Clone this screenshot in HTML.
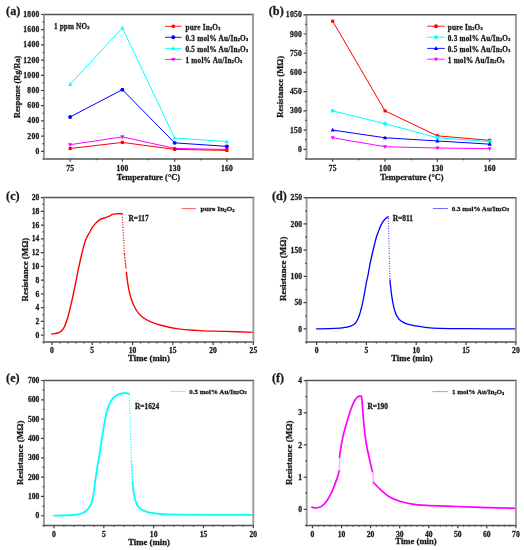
<!DOCTYPE html>
<html><head><meta charset="utf-8"><title>Figure</title>
<style>
html,body{margin:0;padding:0;background:#fff;}
body{width:524px;height:550px;overflow:hidden;}
svg{display:block;will-change:transform;}
text{font-family:"Liberation Serif",serif;font-weight:bold;fill:#1a1a1a;stroke:#1a1a1a;stroke-width:0.28px;}
</style></head><body>
<svg width="524" height="550" viewBox="0 0 524 550">
<rect width="524" height="550" fill="#fff"/>
<text x="6.1" y="14.6" font-size="12.2" text-anchor="start">(a)</text>
<path d="M70.12 84.42L122.38 27.88L174.62 138L226.88 141.65" fill="none" stroke="#00ffff" stroke-width="1.0"/>
<path d="M70.12 82.12L72.22 85.92L68.03 85.92Z" fill="#00ffff"/>
<path d="M122.38 25.58L124.47 29.38L120.28 29.38Z" fill="#00ffff"/>
<path d="M174.62 135.7L176.72 139.5L172.53 139.5Z" fill="#00ffff"/>
<path d="M226.88 139.35L228.97 143.15L224.78 143.15Z" fill="#00ffff"/>
<path d="M70.12 116.95L122.38 89.66L174.62 142.86L226.88 146.36" fill="none" stroke="#0000ff" stroke-width="1.0"/>
<circle cx="70.12" cy="116.95" r="1.95" fill="#0000ff"/>
<circle cx="122.38" cy="89.66" r="1.95" fill="#0000ff"/>
<circle cx="174.62" cy="142.86" r="1.95" fill="#0000ff"/>
<circle cx="226.88" cy="146.36" r="1.95" fill="#0000ff"/>
<path d="M70.12 144.69L122.38 136.86L174.62 148.41L226.88 149.48" fill="none" stroke="#ff00ff" stroke-width="1.0"/>
<path d="M70.12 146.99L72.22 143.19L68.03 143.19Z" fill="#ff00ff"/>
<path d="M122.38 139.16L124.47 135.36L120.28 135.36Z" fill="#ff00ff"/>
<path d="M174.62 150.71L176.72 146.91L172.53 146.91Z" fill="#ff00ff"/>
<path d="M226.88 151.78L228.97 147.98L224.78 147.98Z" fill="#ff00ff"/>
<path d="M70.12 148.49L122.38 142.41L174.62 149.4L226.88 150.39" fill="none" stroke="#ff0000" stroke-width="1.0"/>
<rect x="68.58" y="146.94" width="3.1" height="3.1" fill="#ff0000"/>
<rect x="120.83" y="140.86" width="3.1" height="3.1" fill="#ff0000"/>
<rect x="173.07" y="147.85" width="3.1" height="3.1" fill="#ff0000"/>
<rect x="225.32" y="148.84" width="3.1" height="3.1" fill="#ff0000"/>
<path d="M43.2 14.5H253.8M43.2 158.9H253.8" stroke="#555555" stroke-width="1.5"/>
<path d="M44 14.5V158.9M253 14.5V158.9" stroke="#9a9a9a" stroke-width="1.9"/>
<path d="M44 151.3H41M44 136.1H41M44 120.9H41M44 105.7H41M44 90.5H41M44 75.3H41M44 60.1H41M44 44.9H41M44 29.7H41M44 14.5H41M44 158.9H42.5M44 143.7H42.5M44 128.5H42.5M44 113.3H42.5M44 98.1H42.5M44 82.9H42.5M44 67.7H42.5M44 52.5H42.5M44 37.3H42.5M44 22.1H42.5" stroke="#404040" stroke-width="1.2"/>
<text x="39.75" y="153.88" font-size="7.6" text-anchor="end" letter-spacing="0.35">0</text>
<text x="39.75" y="138.68" font-size="7.6" text-anchor="end" letter-spacing="0.35">200</text>
<text x="39.75" y="123.48" font-size="7.6" text-anchor="end" letter-spacing="0.35">400</text>
<text x="39.75" y="108.28" font-size="7.6" text-anchor="end" letter-spacing="0.35">600</text>
<text x="39.75" y="93.08" font-size="7.6" text-anchor="end" letter-spacing="0.35">800</text>
<text x="39.75" y="77.88" font-size="7.6" text-anchor="end" letter-spacing="0.35">1000</text>
<text x="39.75" y="62.68" font-size="7.6" text-anchor="end" letter-spacing="0.35">1200</text>
<text x="39.75" y="47.48" font-size="7.6" text-anchor="end" letter-spacing="0.35">1400</text>
<text x="39.75" y="32.28" font-size="7.6" text-anchor="end" letter-spacing="0.35">1600</text>
<text x="39.75" y="17.08" font-size="7.6" text-anchor="end" letter-spacing="0.35">1800</text>
<path d="M70.12 158.9V161.7M122.38 158.9V161.7M174.62 158.9V161.7M226.88 158.9V161.7M96.25 158.9V160.3M148.5 158.9V160.3M200.75 158.9V160.3" stroke="#404040" stroke-width="1.2"/>
<text x="70.25" y="170.9" font-size="7.6" text-anchor="middle" letter-spacing="0.25">75</text>
<text x="122.5" y="170.9" font-size="7.6" text-anchor="middle" letter-spacing="0.25">100</text>
<text x="174.75" y="170.9" font-size="7.6" text-anchor="middle" letter-spacing="0.25">130</text>
<text x="227" y="170.9" font-size="7.6" text-anchor="middle" letter-spacing="0.25">160</text>
<text x="148.4" y="179.6" font-size="8.4" text-anchor="middle" textLength="63.2" lengthAdjust="spacingAndGlyphs">Temperature (&#176;C)</text>
<text x="0" y="0" font-size="8.4" text-anchor="middle" textLength="62.2" lengthAdjust="spacingAndGlyphs" transform="translate(19.8 86.9) rotate(-90)">Response (Rg/Ra)</text>
<text x="54" y="28.6" font-size="7.2" text-anchor="start" letter-spacing="0.15">1 ppm NO<tspan font-size="4.6" dy="0.6">2</tspan></text>
<path d="M165 26.3H181.6" stroke="#ff0000" stroke-width="0.9"/>
<rect x="171.75" y="24.75" width="3.1" height="3.1" fill="#ff0000"/>
<text x="185.5" y="29.66" font-size="7.25" text-anchor="start" letter-spacing="0.2">pure In<tspan font-size="4.35" dy="0.58">2</tspan><tspan dy="-0.58">O</tspan><tspan font-size="4.35" dy="0.58">3</tspan></text>
<path d="M165 37.3H181.6" stroke="#0000ff" stroke-width="0.9"/>
<circle cx="173.3" cy="37.3" r="1.95" fill="#0000ff"/>
<text x="185.5" y="40.66" font-size="7.25" text-anchor="start" letter-spacing="0.2">0.3 mol% Au/In<tspan font-size="4.35" dy="0.58">2</tspan><tspan dy="-0.58">O</tspan><tspan font-size="4.35" dy="0.58">3</tspan></text>
<path d="M165 48.4H181.6" stroke="#00ffff" stroke-width="0.9"/>
<path d="M173.3 46.1L175.4 49.9L171.2 49.9Z" fill="#00ffff"/>
<text x="185.5" y="51.77" font-size="7.25" text-anchor="start" letter-spacing="0.2">0.5 mol% Au/In<tspan font-size="4.35" dy="0.58">2</tspan><tspan dy="-0.58">O</tspan><tspan font-size="4.35" dy="0.58">3</tspan></text>
<path d="M165 59.4H181.6" stroke="#ff00ff" stroke-width="0.9"/>
<path d="M173.3 61.7L175.4 57.9L171.2 57.9Z" fill="#ff00ff"/>
<text x="185.5" y="62.77" font-size="7.25" text-anchor="start" letter-spacing="0.2">1 mol% Au/In<tspan font-size="4.35" dy="0.58">2</tspan><tspan dy="-0.58">O</tspan><tspan font-size="4.35" dy="0.58">3</tspan></text>
<text x="268.8" y="14.6" font-size="12.2" text-anchor="start">(b)</text>
<path d="M332.68 21.2L385.02 110.87L437.38 135.84L489.72 140.33" fill="none" stroke="#ff0000" stroke-width="1.0"/>
<rect x="331.12" y="19.65" width="3.1" height="3.1" fill="#ff0000"/>
<rect x="383.47" y="109.32" width="3.1" height="3.1" fill="#ff0000"/>
<rect x="435.82" y="134.29" width="3.1" height="3.1" fill="#ff0000"/>
<rect x="488.17" y="138.78" width="3.1" height="3.1" fill="#ff0000"/>
<path d="M332.68 110.87L385.02 123.68L437.38 137.77L489.72 141.61" fill="none" stroke="#00ffff" stroke-width="1.0"/>
<circle cx="332.68" cy="110.87" r="1.95" fill="#00ffff"/>
<circle cx="385.02" cy="123.68" r="1.95" fill="#00ffff"/>
<circle cx="437.38" cy="137.77" r="1.95" fill="#00ffff"/>
<circle cx="489.72" cy="141.61" r="1.95" fill="#00ffff"/>
<path d="M332.68 130.08L385.02 137.77L437.38 140.97L489.72 144.17" fill="none" stroke="#0000ff" stroke-width="1.0"/>
<path d="M332.68 127.78L334.78 131.58L330.57 131.58Z" fill="#0000ff"/>
<path d="M385.02 135.47L387.12 139.27L382.92 139.27Z" fill="#0000ff"/>
<path d="M437.38 138.67L439.48 142.47L435.27 142.47Z" fill="#0000ff"/>
<path d="M489.72 141.87L491.82 145.67L487.62 145.67Z" fill="#0000ff"/>
<path d="M332.68 137.77L385.02 146.73L437.38 148.01L489.72 148.65" fill="none" stroke="#ff00ff" stroke-width="1.0"/>
<path d="M332.68 140.07L334.78 136.27L330.57 136.27Z" fill="#ff00ff"/>
<path d="M385.02 149.03L387.12 145.23L382.92 145.23Z" fill="#ff00ff"/>
<path d="M437.38 150.31L439.48 146.51L435.27 146.51Z" fill="#ff00ff"/>
<path d="M489.72 150.95L491.82 147.15L487.62 147.15Z" fill="#ff00ff"/>
<path d="M305.7 14.8H516.7M305.7 158.9H516.7" stroke="#555555" stroke-width="1.5"/>
<path d="M306.5 14.8V158.9M515.9 14.8V158.9" stroke="#9a9a9a" stroke-width="1.9"/>
<path d="M306.5 149.29H303.5M306.5 130.08H303.5M306.5 110.87H303.5M306.5 91.65H303.5M306.5 72.44H303.5M306.5 53.23H303.5M306.5 34.01H303.5M306.5 14.8H303.5M306.5 158.9H305M306.5 139.69H305M306.5 120.47H305M306.5 101.26H305M306.5 82.05H305M306.5 62.83H305M306.5 43.62H305M306.5 24.41H305" stroke="#404040" stroke-width="1.2"/>
<text x="302.2" y="151.88" font-size="7.6" text-anchor="end" letter-spacing="0.3">0</text>
<text x="302.2" y="132.66" font-size="7.6" text-anchor="end" letter-spacing="0.3">150</text>
<text x="302.2" y="113.45" font-size="7.6" text-anchor="end" letter-spacing="0.3">300</text>
<text x="302.2" y="94.24" font-size="7.6" text-anchor="end" letter-spacing="0.3">450</text>
<text x="302.2" y="75.02" font-size="7.6" text-anchor="end" letter-spacing="0.3">600</text>
<text x="302.2" y="55.81" font-size="7.6" text-anchor="end" letter-spacing="0.3">750</text>
<text x="302.2" y="36.6" font-size="7.6" text-anchor="end" letter-spacing="0.3">900</text>
<text x="302.2" y="17.38" font-size="7.6" text-anchor="end" letter-spacing="0.3">1050</text>
<path d="M332.68 158.9V161.7M385.02 158.9V161.7M437.38 158.9V161.7M489.72 158.9V161.7M358.85 158.9V160.3M411.2 158.9V160.3M463.55 158.9V160.3" stroke="#404040" stroke-width="1.2"/>
<text x="332.8" y="170.9" font-size="7.6" text-anchor="middle" letter-spacing="0.25">75</text>
<text x="385.15" y="170.9" font-size="7.6" text-anchor="middle" letter-spacing="0.25">100</text>
<text x="437.5" y="170.9" font-size="7.6" text-anchor="middle" letter-spacing="0.25">130</text>
<text x="489.85" y="170.9" font-size="7.6" text-anchor="middle" letter-spacing="0.25">160</text>
<text x="411.9" y="179.6" font-size="8.4" text-anchor="middle" textLength="63.2" lengthAdjust="spacingAndGlyphs">Temperature (&#176;C)</text>
<text x="0" y="0" font-size="8.4" text-anchor="middle" textLength="61.9" lengthAdjust="spacingAndGlyphs" transform="translate(283.2 86.8) rotate(-90)">Resistance (M&#937;)</text>
<path d="M427.2 26.2H444.8" stroke="#ff0000" stroke-width="0.9"/>
<circle cx="436" cy="26.2" r="1.95" fill="#ff0000"/>
<text x="447.8" y="29.56" font-size="7.25" text-anchor="start" letter-spacing="0.2">pure In<tspan font-size="4.35" dy="0.58">2</tspan><tspan dy="-0.58">O</tspan><tspan font-size="4.35" dy="0.58">3</tspan></text>
<path d="M427.2 37.2H444.8" stroke="#00ffff" stroke-width="0.9"/>
<circle cx="436" cy="37.2" r="1.95" fill="#00ffff"/>
<text x="447.8" y="40.57" font-size="7.25" text-anchor="start" letter-spacing="0.2">0.3 mol% Au/In<tspan font-size="4.35" dy="0.58">2</tspan><tspan dy="-0.58">O</tspan><tspan font-size="4.35" dy="0.58">3</tspan></text>
<path d="M427.2 48.4H444.8" stroke="#0000ff" stroke-width="0.9"/>
<path d="M436 46.1L438.1 49.9L433.9 49.9Z" fill="#0000ff"/>
<text x="447.8" y="51.77" font-size="7.25" text-anchor="start" letter-spacing="0.2">0.5 mol% Au/In<tspan font-size="4.35" dy="0.58">2</tspan><tspan dy="-0.58">O</tspan><tspan font-size="4.35" dy="0.58">3</tspan></text>
<path d="M427.2 59.2H444.8" stroke="#ff00ff" stroke-width="0.9"/>
<path d="M436 61.5L438.1 57.7L433.9 57.7Z" fill="#ff00ff"/>
<text x="447.8" y="62.57" font-size="7.25" text-anchor="start" letter-spacing="0.2">1 mol% Au/In<tspan font-size="4.35" dy="0.58">2</tspan><tspan dy="-0.58">O</tspan><tspan font-size="4.35" dy="0.58">3</tspan></text>
<text x="6.1" y="199.7" font-size="12.2" text-anchor="start">(c)</text>
<path d="M51.96 334.05C53.13 333.83 56.98 333.78 58.97 332.74C60.96 331.69 62.45 330.24 63.88 327.78C65.32 325.33 66.35 322.09 67.59 318.01C68.83 313.92 70.06 308.61 71.3 303.28C72.53 297.94 73.77 291.94 75 286C76.24 280.06 77.49 273.36 78.71 267.62C79.93 261.89 81.13 256.3 82.34 251.58C83.54 246.87 84.71 242.6 85.96 239.33C87.21 236.06 88.65 234.11 89.83 231.97C91.01 229.82 91.9 228.1 93.05 226.46C94.21 224.82 95.62 223.28 96.76 222.12C97.9 220.96 98.63 220.2 99.9 219.51C101.18 218.82 102.82 218.56 104.41 217.99C106.01 217.43 108.17 216.73 109.49 216.13C110.81 215.54 111.05 214.8 112.31 214.41C113.57 214.02 115.41 213.93 117.06 213.79C118.72 213.66 121.36 213.62 122.22 213.59" fill="none" stroke="#ff0000" stroke-width="1.4" stroke-linejoin="round" stroke-linecap="round"/>
<path d="M122.22 214.07L124.48 253.99" stroke="#ff0000" stroke-width="1.3" stroke-dasharray="1 1.6"/>
<path d="M124.48 253.99L126.09 269.14" stroke="#ff0000" stroke-width="1.3" stroke-dasharray="0.9 0.6"/>
<path d="M126.41 272.23C126.71 274.53 127.42 281.66 128.18 286C128.95 290.34 129.77 294.42 131 298.25C132.24 302.08 133.81 305.94 135.6 308.99C137.38 312.04 139.18 314.42 141.72 316.56C144.26 318.71 147.28 320.34 150.83 321.86C154.37 323.39 158.41 324.56 162.99 325.72C167.57 326.88 172.08 328 178.3 328.82C184.52 329.63 192.55 330.18 200.3 330.6C208.05 331.03 215.95 331.08 224.8 331.36C233.65 331.65 248.63 332.17 253.4 332.33" fill="none" stroke="#ff0000" stroke-width="1.4" stroke-linejoin="round" stroke-linecap="round"/>
<path d="M43.1 197.55H254.2M43.1 342.1H254.2" stroke="#555555" stroke-width="1.5"/>
<path d="M43.9 197.55V342.1M253.4 197.55V342.1" stroke="#9a9a9a" stroke-width="1.9"/>
<path d="M43.9 335.22H40.9M43.9 321.45H40.9M43.9 307.68H40.9M43.9 293.92H40.9M43.9 280.15H40.9M43.9 266.38H40.9M43.9 252.62H40.9M43.9 238.85H40.9M43.9 225.08H40.9M43.9 211.32H40.9M43.9 197.55H40.9M43.9 342.1H42.4M43.9 328.33H42.4M43.9 314.57H42.4M43.9 300.8H42.4M43.9 287.03H42.4M43.9 273.27H42.4M43.9 259.5H42.4M43.9 245.73H42.4M43.9 231.97H42.4M43.9 218.2H42.4M43.9 204.43H42.4" stroke="#404040" stroke-width="1.2"/>
<text x="39.3" y="337.8" font-size="7.6" text-anchor="end">0</text>
<text x="39.3" y="324.03" font-size="7.6" text-anchor="end">2</text>
<text x="39.3" y="310.27" font-size="7.6" text-anchor="end">4</text>
<text x="39.3" y="296.5" font-size="7.6" text-anchor="end">6</text>
<text x="39.3" y="282.73" font-size="7.6" text-anchor="end">8</text>
<text x="39.3" y="268.97" font-size="7.6" text-anchor="end">10</text>
<text x="39.3" y="255.2" font-size="7.6" text-anchor="end">12</text>
<text x="39.3" y="241.43" font-size="7.6" text-anchor="end">14</text>
<text x="39.3" y="227.67" font-size="7.6" text-anchor="end">16</text>
<text x="39.3" y="213.9" font-size="7.6" text-anchor="end">18</text>
<text x="39.3" y="200.13" font-size="7.6" text-anchor="end">20</text>
<path d="M51.96 342.1V344.9M92.25 342.1V344.9M132.53 342.1V344.9M172.82 342.1V344.9M213.11 342.1V344.9M253.4 342.1V344.9M43.9 342.1V343.5M60.02 342.1V343.5M68.07 342.1V343.5M76.13 342.1V343.5M84.19 342.1V343.5M100.3 342.1V343.5M108.36 342.1V343.5M116.42 342.1V343.5M124.48 342.1V343.5M140.59 342.1V343.5M148.65 342.1V343.5M156.71 342.1V343.5M164.77 342.1V343.5M180.88 342.1V343.5M188.94 342.1V343.5M197 342.1V343.5M205.05 342.1V343.5M221.17 342.1V343.5M229.23 342.1V343.5M237.28 342.1V343.5M245.34 342.1V343.5" stroke="#404040" stroke-width="1.2"/>
<text x="51.96" y="353.3" font-size="7.6" text-anchor="middle">0</text>
<text x="92.25" y="353.3" font-size="7.6" text-anchor="middle">5</text>
<text x="132.53" y="353.3" font-size="7.6" text-anchor="middle">10</text>
<text x="172.82" y="353.3" font-size="7.6" text-anchor="middle">15</text>
<text x="213.11" y="353.3" font-size="7.6" text-anchor="middle">20</text>
<text x="253.4" y="353.3" font-size="7.6" text-anchor="middle">25</text>
<text x="149" y="361.1" font-size="8.4" text-anchor="middle" textLength="41.8" lengthAdjust="spacingAndGlyphs">Time (min)</text>
<text x="0" y="0" font-size="8.4" text-anchor="middle" textLength="63.7" lengthAdjust="spacingAndGlyphs" transform="translate(28 269.6) rotate(-90)">Resistance (M&#937;)</text>
<text x="128.4" y="221.1" font-size="7.2" text-anchor="start" textLength="20.2" lengthAdjust="spacingAndGlyphs">R=117</text>
<path d="M181.6 208.6H196.2" stroke="#ff5050" stroke-width="0.9"/>
<circle cx="188.9" cy="208.6" r="0.75" fill="#ff5050"/>
<text x="200.6" y="211.01" font-size="7.1" text-anchor="start" textLength="34" lengthAdjust="spacingAndGlyphs">pure In<tspan font-size="4.26" dy="0.57">2</tspan><tspan dy="-0.57">O</tspan><tspan font-size="4.26" dy="0.57">3</tspan></text>
<text x="272" y="199.7" font-size="12.2" text-anchor="start">(d)</text>
<path d="M316.57 328.82C318.56 328.8 324.62 328.82 328.53 328.71C332.43 328.61 337.13 328.42 339.99 328.19C342.85 327.95 343.79 327.69 345.67 327.29C347.55 326.9 349.67 326.45 351.25 325.82C352.83 325.19 354.09 324.54 355.14 323.51C356.18 322.49 356.82 321.1 357.53 319.68C358.24 318.26 358.88 316.58 359.42 315.01C359.97 313.43 360.35 311.96 360.82 310.23C361.28 308.49 361.75 306.65 362.21 304.61C362.68 302.57 363.14 300.36 363.61 297.99C364.07 295.62 364.54 292.96 365 290.38C365.47 287.8 365.87 285.22 366.4 282.5C366.93 279.79 367.56 277.32 368.19 274.1C368.83 270.88 369.51 266.57 370.19 263.18C370.87 259.78 371.6 256.68 372.28 253.73C372.96 250.78 373.59 248.22 374.27 245.48C374.95 242.74 375.57 239.91 376.37 237.29C377.16 234.68 378.16 232.07 379.06 229.78C379.95 227.5 380.82 225.3 381.75 223.59C382.68 221.87 383.71 220.57 384.64 219.49C385.57 218.41 386.73 217.57 387.33 217.13C387.93 216.68 388.08 216.87 388.23 216.81" fill="none" stroke="#0000ff" stroke-width="1.3" stroke-linejoin="round" stroke-linecap="round"/>
<path d="M388.33 218.18L389.92 279.98" stroke="#0000ff" stroke-width="1.1" stroke-dasharray="0.9 1.6"/>
<path d="M389.92 279.98C390.05 281.25 390.44 285.08 390.72 287.6C391 290.12 391.23 292.44 391.62 295.1C392 297.77 392.46 300.92 393.01 303.61C393.56 306.3 394.19 309.01 394.9 311.22C395.62 313.44 396.27 315.25 397.3 316.9C398.33 318.54 399.52 319.91 401.08 321.1C402.65 322.28 404.31 323.2 406.67 323.98C409.02 324.77 412.18 325.27 415.24 325.82C418.29 326.37 420.88 326.87 425 327.29C429.12 327.71 433.11 328.11 439.95 328.34C446.8 328.58 453.41 328.62 466.07 328.71C478.72 328.8 507.59 328.84 515.9 328.87" fill="none" stroke="#0000ff" stroke-width="1.3" stroke-linejoin="round" stroke-linecap="round"/>
<path d="M305.8 197.7H516.7M305.8 342.1H516.7" stroke="#555555" stroke-width="1.5"/>
<path d="M306.6 197.7V342.1M515.9 197.7V342.1" stroke="#9a9a9a" stroke-width="1.9"/>
<path d="M306.6 328.97H303.6M306.6 302.72H303.6M306.6 276.46H303.6M306.6 250.21H303.6M306.6 223.95H303.6M306.6 197.7H303.6M306.6 342.1H305.1M306.6 315.85H305.1M306.6 289.59H305.1M306.6 263.34H305.1M306.6 237.08H305.1M306.6 210.83H305.1" stroke="#404040" stroke-width="1.2"/>
<text x="302" y="331.56" font-size="7.6" text-anchor="end">0</text>
<text x="302" y="305.3" font-size="7.6" text-anchor="end">50</text>
<text x="302" y="279.05" font-size="7.6" text-anchor="end">100</text>
<text x="302" y="252.79" font-size="7.6" text-anchor="end">150</text>
<text x="302" y="226.54" font-size="7.6" text-anchor="end">200</text>
<text x="302" y="200.28" font-size="7.6" text-anchor="end">250</text>
<path d="M316.57 342.1V344.9M366.4 342.1V344.9M416.23 342.1V344.9M466.07 342.1V344.9M515.9 342.1V344.9M306.6 342.1V343.5M326.53 342.1V343.5M336.5 342.1V343.5M346.47 342.1V343.5M356.43 342.1V343.5M376.37 342.1V343.5M386.33 342.1V343.5M396.3 342.1V343.5M406.27 342.1V343.5M426.2 342.1V343.5M436.17 342.1V343.5M446.13 342.1V343.5M456.1 342.1V343.5M476.03 342.1V343.5M486 342.1V343.5M495.97 342.1V343.5M505.93 342.1V343.5" stroke="#404040" stroke-width="1.2"/>
<text x="316.57" y="353.3" font-size="7.6" text-anchor="middle">0</text>
<text x="366.4" y="353.3" font-size="7.6" text-anchor="middle">5</text>
<text x="416.23" y="353.3" font-size="7.6" text-anchor="middle">10</text>
<text x="466.07" y="353.3" font-size="7.6" text-anchor="middle">15</text>
<text x="515.9" y="353.3" font-size="7.6" text-anchor="middle">20</text>
<text x="411.9" y="360.6" font-size="8.4" text-anchor="middle" textLength="41.4" lengthAdjust="spacingAndGlyphs">Time (min)</text>
<text x="0" y="0" font-size="8.4" text-anchor="middle" textLength="64.4" lengthAdjust="spacingAndGlyphs" transform="translate(286.4 268.7) rotate(-90)">Resistance (M&#937;)</text>
<text x="392.7" y="220.7" font-size="7.2" text-anchor="start" textLength="20.4" lengthAdjust="spacingAndGlyphs">R=811</text>
<path d="M432.8 208.5H448" stroke="#6060f8" stroke-width="0.9"/>
<circle cx="440.4" cy="208.5" r="0.75" fill="#6060f8"/>
<text x="451.7" y="210.88" font-size="7" text-anchor="start">0.3 mol% Au/In<tspan font-size="4.2" dy="0.56">2</tspan><tspan dy="-0.56">O</tspan><tspan font-size="4.2" dy="0.56">3</tspan></text>
<text x="6.1" y="381.9" font-size="12.2" text-anchor="start">(e)</text>
<path d="M53.97 515.68C55.46 515.65 60.26 515.58 62.94 515.51C65.61 515.43 67.75 515.39 70.01 515.24C72.27 515.08 74.5 514.92 76.49 514.58C78.48 514.25 80.33 513.88 81.97 513.23C83.62 512.58 85.18 511.67 86.36 510.7C87.54 509.73 88.22 508.58 89.05 507.39C89.88 506.21 90.69 505.32 91.34 503.61C91.99 501.89 92.49 499.28 92.94 497.1C93.38 494.91 93.67 493.06 94.03 490.51C94.4 487.96 94.76 484.51 95.13 481.79C95.49 479.08 95.86 476.66 96.23 474.2C96.59 471.75 96.67 471 97.32 467.05C97.97 463.1 99.28 455.69 100.11 450.5C100.94 445.3 101.57 440.5 102.31 435.89C103.04 431.28 103.78 426.69 104.5 422.81C105.21 418.93 105.76 415.74 106.59 412.59C107.42 409.44 108.38 406.31 109.48 403.9C110.58 401.48 111.84 399.63 113.17 398.1C114.5 396.57 115.99 395.48 117.45 394.7C118.92 393.92 120.59 393.69 121.94 393.41C123.28 393.12 124.31 392.95 125.53 393C126.74 393.05 128.6 393.58 129.22 393.7" fill="none" stroke="#00ffff" stroke-width="1.8" stroke-linejoin="round" stroke-linecap="round"/>
<path d="M129.31 394.8L131.41 461.06" stroke="#00ffff" stroke-width="1.3" stroke-dasharray="1 1.6"/>
<path d="M131.41 461.06L132.6 481.79" stroke="#00ffff" stroke-width="1.5" stroke-dasharray="1 0.5"/>
<path d="M132.6 481.79C132.79 483.61 133.23 489.61 133.7 492.69C134.17 495.78 134.76 498.12 135.39 500.3C136.03 502.49 136.49 504.26 137.49 505.81C138.48 507.36 139.83 508.6 141.37 509.6C142.92 510.59 144.75 511.2 146.76 511.8C148.77 512.4 151.22 512.84 153.43 513.21C155.64 513.58 157.32 513.8 160.01 514C162.7 514.2 165.33 514.27 169.58 514.39C173.83 514.51 178.22 514.65 185.53 514.72C192.84 514.79 202.14 514.8 213.43 514.81C224.73 514.83 246.66 514.81 253.3 514.81" fill="none" stroke="#00ffff" stroke-width="1.8" stroke-linejoin="round" stroke-linecap="round"/>
<path d="M43.2 380.5H254.1M43.2 525.4H254.1" stroke="#555555" stroke-width="1.5"/>
<path d="M44 380.5V525.4M253.3 380.5V525.4" stroke="#9a9a9a" stroke-width="1.9"/>
<path d="M44 515.74H41M44 496.42H41M44 477.1H41M44 457.78H41M44 438.46H41M44 419.14H41M44 399.82H41M44 380.5H41M44 525.4H42.5M44 506.08H42.5M44 486.76H42.5M44 467.44H42.5M44 448.12H42.5M44 428.8H42.5M44 409.48H42.5M44 390.16H42.5" stroke="#404040" stroke-width="1.2"/>
<text x="39.4" y="518.32" font-size="7.6" text-anchor="end">0</text>
<text x="39.4" y="499" font-size="7.6" text-anchor="end">100</text>
<text x="39.4" y="479.68" font-size="7.6" text-anchor="end">200</text>
<text x="39.4" y="460.36" font-size="7.6" text-anchor="end">300</text>
<text x="39.4" y="441.04" font-size="7.6" text-anchor="end">400</text>
<text x="39.4" y="421.72" font-size="7.6" text-anchor="end">500</text>
<text x="39.4" y="402.4" font-size="7.6" text-anchor="end">600</text>
<text x="39.4" y="383.08" font-size="7.6" text-anchor="end">700</text>
<path d="M53.97 525.4V528.2M103.8 525.4V528.2M153.63 525.4V528.2M203.47 525.4V528.2M253.3 525.4V528.2M44 525.4V526.8M63.93 525.4V526.8M73.9 525.4V526.8M83.87 525.4V526.8M93.83 525.4V526.8M113.77 525.4V526.8M123.73 525.4V526.8M133.7 525.4V526.8M143.67 525.4V526.8M163.6 525.4V526.8M173.57 525.4V526.8M183.53 525.4V526.8M193.5 525.4V526.8M213.43 525.4V526.8M223.4 525.4V526.8M233.37 525.4V526.8M243.33 525.4V526.8" stroke="#404040" stroke-width="1.2"/>
<text x="53.97" y="536.6" font-size="7.6" text-anchor="middle">0</text>
<text x="103.8" y="536.6" font-size="7.6" text-anchor="middle">5</text>
<text x="153.63" y="536.6" font-size="7.6" text-anchor="middle">10</text>
<text x="203.47" y="536.6" font-size="7.6" text-anchor="middle">15</text>
<text x="253.3" y="536.6" font-size="7.6" text-anchor="middle">20</text>
<text x="149.1" y="544.6" font-size="8.4" text-anchor="middle" textLength="41.8" lengthAdjust="spacingAndGlyphs">Time (min)</text>
<text x="0" y="0" font-size="8.4" text-anchor="middle" textLength="64.4" lengthAdjust="spacingAndGlyphs" transform="translate(23.2 452.7) rotate(-90)">Resistance (M&#937;)</text>
<text x="135" y="408.5" font-size="7.2" text-anchor="start" textLength="24.2" lengthAdjust="spacingAndGlyphs">R=1624</text>
<path d="M170.7 391.4H185.3" stroke="#60ffff" stroke-width="0.9"/>
<circle cx="178" cy="391.4" r="0.75" fill="#60ffff"/>
<text x="189.2" y="393.78" font-size="7" text-anchor="start">0.5 mol% Au/In<tspan font-size="4.2" dy="0.56">2</tspan><tspan dy="-0.56">O</tspan><tspan font-size="4.2" dy="0.56">3</tspan></text>
<text x="272" y="381.7" font-size="12.2" text-anchor="start">(f)</text>
<path d="M311.93 507.19C312.57 507.33 314.26 508.12 315.79 508.02C317.32 507.93 319.34 507.71 321.11 506.61C322.88 505.5 324.64 503.81 326.4 501.4C328.16 498.98 329.94 495.84 331.69 492.1C333.44 488.35 335.61 482.58 336.89 478.9C338.17 475.23 338.97 471.53 339.39 470.05" fill="none" stroke="#ff00ff" stroke-width="1.7" stroke-linejoin="round" stroke-linecap="round"/>
<path d="M339.39 470.05L339.53 457.18" fill="none" stroke="#f8b8f8" stroke-width="1.6" stroke-linejoin="round" stroke-linecap="round"/>
<path d="M339.53 457.18C339.63 456.38 339.63 455.36 340.11 452.36C340.59 449.35 341.63 443.02 342.41 439.16C343.19 435.3 343.84 432.73 344.79 429.19C345.74 425.65 347 421.47 348.1 417.93C349.2 414.39 350.29 410.85 351.39 407.95C352.49 405.06 353.6 402.43 354.7 400.55C355.8 398.67 357.2 397.41 358.01 396.69C358.83 395.96 359.05 396.26 359.58 396.21C360.11 396.15 360.94 396.34 361.21 396.37" fill="none" stroke="#ff00ff" stroke-width="1.7" stroke-linejoin="round" stroke-linecap="round"/>
<path d="M361.21 396.37C361.34 396.96 361.58 395.51 361.99 399.91C362.41 404.3 363.02 415.67 363.71 422.75C364.39 429.83 365.14 436.37 366.09 442.38C367.04 448.39 368.3 453.75 369.4 458.79C370.51 463.83 372.16 470.32 372.71 472.63" fill="none" stroke="#ff00ff" stroke-width="1.7" stroke-linejoin="round" stroke-linecap="round"/>
<path d="M372.71 472.63L373.53 482.6" fill="none" stroke="#f8b8f8" stroke-width="1.6" stroke-linejoin="round" stroke-linecap="round"/>
<path d="M373.53 482.6C374.89 483.94 379.08 488.29 381.69 490.65C384.31 493.01 386.43 495.07 389.22 496.76C392 498.45 394.8 499.6 398.4 500.78C402 501.96 406.16 503.06 410.81 503.84C415.45 504.62 418.56 505 426.29 505.45C434.03 505.89 446.92 506.14 457.21 506.51C467.49 506.89 478.22 507.4 488.01 507.7C497.79 508.01 511.25 508.24 515.9 508.35" fill="none" stroke="#ff00ff" stroke-width="1.7" stroke-linejoin="round" stroke-linecap="round"/>
<path d="M305.9 380.6H516.7M305.9 525.4H516.7" stroke="#555555" stroke-width="1.5"/>
<path d="M306.7 380.6V525.4M515.9 380.6V525.4" stroke="#9a9a9a" stroke-width="1.9"/>
<path d="M306.7 509.31H303.7M306.7 477.13H303.7M306.7 444.96H303.7M306.7 412.78H303.7M306.7 380.6H303.7M306.7 525.4H305.2M306.7 493.22H305.2M306.7 461.04H305.2M306.7 428.87H305.2M306.7 396.69H305.2" stroke="#404040" stroke-width="1.2"/>
<text x="302.1" y="511.9" font-size="7.6" text-anchor="end">0</text>
<text x="302.1" y="479.72" font-size="7.6" text-anchor="end">1</text>
<text x="302.1" y="447.54" font-size="7.6" text-anchor="end">2</text>
<text x="302.1" y="415.36" font-size="7.6" text-anchor="end">3</text>
<text x="302.1" y="383.18" font-size="7.6" text-anchor="end">4</text>
<path d="M312.51 525.4V528.2M341.57 525.4V528.2M370.62 525.4V528.2M399.68 525.4V528.2M428.73 525.4V528.2M457.79 525.4V528.2M486.84 525.4V528.2M515.9 525.4V528.2M306.7 525.4V526.8M318.32 525.4V526.8M324.13 525.4V526.8M329.94 525.4V526.8M335.76 525.4V526.8M347.38 525.4V526.8M353.19 525.4V526.8M359 525.4V526.8M364.81 525.4V526.8M376.43 525.4V526.8M382.24 525.4V526.8M388.06 525.4V526.8M393.87 525.4V526.8M405.49 525.4V526.8M411.3 525.4V526.8M417.11 525.4V526.8M422.92 525.4V526.8M434.54 525.4V526.8M440.36 525.4V526.8M446.17 525.4V526.8M451.98 525.4V526.8M463.6 525.4V526.8M469.41 525.4V526.8M475.22 525.4V526.8M481.03 525.4V526.8M492.66 525.4V526.8M498.47 525.4V526.8M504.28 525.4V526.8M510.09 525.4V526.8" stroke="#404040" stroke-width="1.2"/>
<text x="312.51" y="536.6" font-size="7.6" text-anchor="middle">0</text>
<text x="341.57" y="536.6" font-size="7.6" text-anchor="middle">10</text>
<text x="370.62" y="536.6" font-size="7.6" text-anchor="middle">20</text>
<text x="399.68" y="536.6" font-size="7.6" text-anchor="middle">30</text>
<text x="428.73" y="536.6" font-size="7.6" text-anchor="middle">40</text>
<text x="457.79" y="536.6" font-size="7.6" text-anchor="middle">50</text>
<text x="486.84" y="536.6" font-size="7.6" text-anchor="middle">60</text>
<text x="515.9" y="536.6" font-size="7.6" text-anchor="middle">70</text>
<text x="416" y="544.4" font-size="8.4" text-anchor="middle" textLength="41.4" lengthAdjust="spacingAndGlyphs">Time (min)</text>
<text x="0" y="0" font-size="8.4" text-anchor="middle" textLength="64.4" lengthAdjust="spacingAndGlyphs" transform="translate(291.8 452.7) rotate(-90)">Resistance (M&#937;)</text>
<text x="367.4" y="408.8" font-size="7.2" text-anchor="start" textLength="20.5" lengthAdjust="spacingAndGlyphs">R=190</text>
<path d="M432.5 391.6H448" stroke="#ff60ff" stroke-width="0.9"/>
<circle cx="440.25" cy="391.6" r="0.75" fill="#ff60ff"/>
<text x="452" y="393.98" font-size="7" text-anchor="start">1 mol% Au/In<tspan font-size="4.2" dy="0.56">2</tspan><tspan dy="-0.56">O</tspan><tspan font-size="4.2" dy="0.56">3</tspan></text>
</svg>
</body></html>
